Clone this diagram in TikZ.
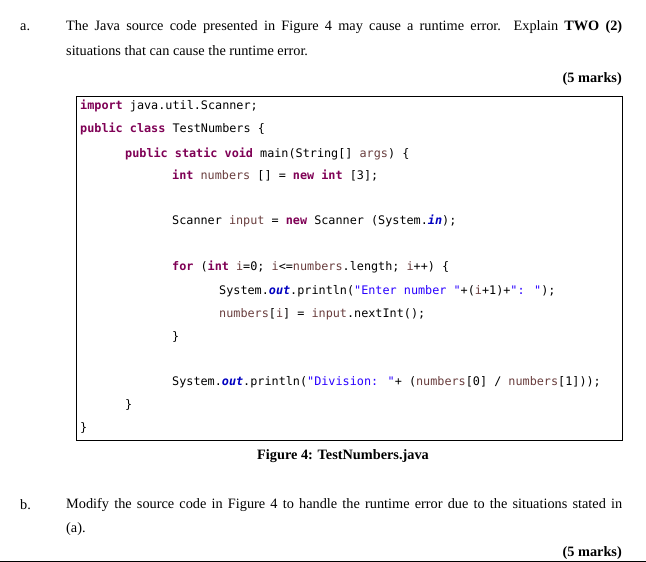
\documentclass[tikz,border=0pt]{standalone}
\usepackage{fontspec}
\setmainfont{Liberation Serif}
\newfontfamily\codefont{DejaVu Sans Mono}
\definecolor{kw}{HTML}{7F0055}
\definecolor{vr}{HTML}{6A3E3E}
\definecolor{st}{HTML}{2A00FF}
\definecolor{fl}{HTML}{0000C0}
\newcommand{\K}[1]{\textcolor{kw}{\bfseries #1}}
\newcommand{\V}[1]{\textcolor{vr}{#1}}
\newcommand{\St}[1]{\textcolor{st}{#1}}
\newcommand{\F}[1]{\textcolor{fl}{\bfseries\itshape #1}}
\begin{document}
\begin{tikzpicture}[x=1pt,y=-1pt,
  txt/.style={anchor=west,inner sep=0pt,font=\fontsize{14.3}{16}\selectfont},
  code/.style={anchor=west,inner sep=0pt,font=\codefont\fontsize{11.8}{13}\selectfont}]
\useasboundingbox[fill=white] (0,0) rectangle (646,562);
\node[txt] (a) at (20,27) {a.};
\node[txt] (a1) at (66,27) {\makebox[556pt][s]{The Java source code presented in Figure 4 may cause a runtime error. Explain \textbf{TWO (2)}}};
\node[txt] (a2) at (66,51) {situations that can cause the runtime error.};
\node[txt,anchor=east] (m1) at (622,79) {\textbf{(5 marks)}};
\draw[line width=0.8pt] (76,96) rectangle (622,440);
\node[code] (c1) at (80,106) {\K{import} java.util.Scanner;};
\node[code] (c2) at (80,129) {\K{public} \K{class} TestNumbers \{};
\node[code] (c3) at (125,154) {\K{public} \K{static} \K{void} main(String[] \V{args}) \{};
\node[code] (c4) at (172,176) {\K{int} \V{numbers} [] = \K{new} \K{int} [3];};
\node[code] (c5) at (172,221) {Scanner \V{input} = \K{new} Scanner (System.\F{in});};
\node[code] (c6) at (172,267) {\K{for} (\K{int} \V{i}=0; \V{i}<=\V{numbers}.length; \V{i}++) \{};
\node[code] (c7) at (219,291) {System.\F{out}.println(\St{"Enter number "}+(\V{i}+1)+\St{": "});};
\node[code] (c8) at (219,314) {\V{numbers}[\V{i}] = \V{input}.nextInt();};
\node[code] (c9) at (172,337) {\}};
\node[code] (c10) at (172,382) {System.\F{out}.println(\St{"Division: "}+ (\V{numbers}[0] / \V{numbers}[1]));};
\node[code] (c11) at (125,405) {\}};
\node[code] (c12) at (80,428) {\}};
\node[txt,anchor=center] (cap) at (343,456) {\textbf{Figure 4: TestNumbers.java}};
\node[txt] (b) at (20,505) {b.};
\node[txt] (b1) at (66,505) {\makebox[556pt][s]{Modify the source code in Figure 4 to handle the runtime error due to the situations stated in}};
\node[txt] (b2) at (66,529) {(a).};
\node[txt,anchor=east] (m2) at (622,554) {\textbf{\underline{(5 marks)}}};
\draw[line width=0.8pt] (0,561) -- (646,561);
\end{tikzpicture}
\end{document}
